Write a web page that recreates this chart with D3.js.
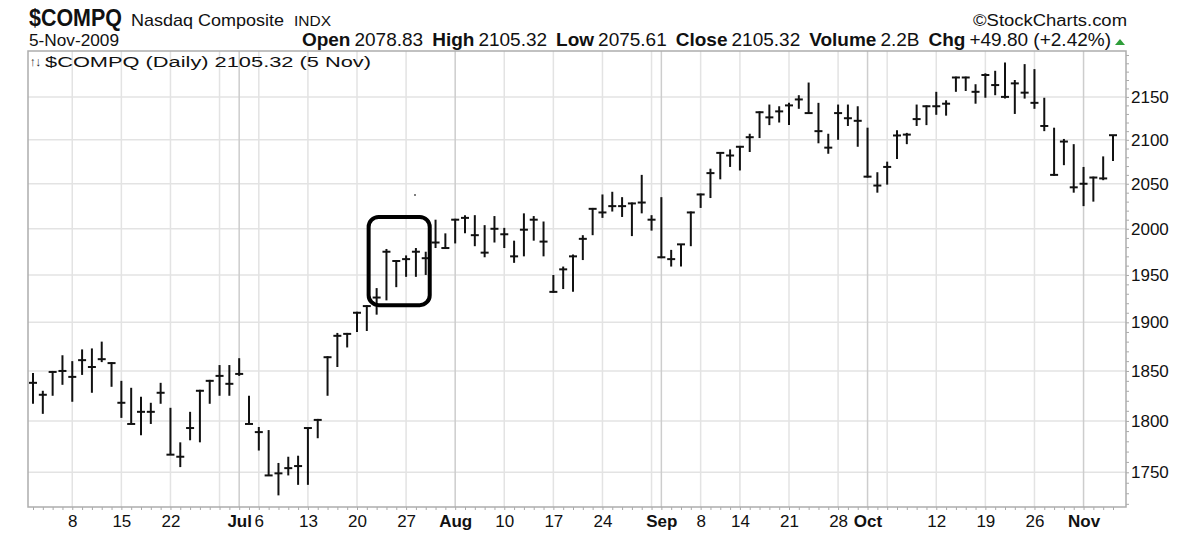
<!DOCTYPE html>
<html>
<head>
<meta charset="utf-8">
<script src="https://cdn.jsdelivr.net/npm/d3@7"></script>
<style>
  body { margin: 0; background: #fff; }
  text { font-family: "Liberation Sans", Arial, sans-serif; fill: #111; }
</style>
</head>
<body>
<div id="chart"></div>
<script>
// trading days shown on the chart
const dates = [
  "Jun 2","Jun 3","Jun 4","Jun 5","Jun 8","Jun 9","Jun 10","Jun 11","Jun 12","Jun 15",
  "Jun 16","Jun 17","Jun 18","Jun 19","Jun 22","Jun 23","Jun 24","Jun 25","Jun 26","Jun 29",
  "Jun 30","Jul 1","Jul 2","Jul 6","Jul 7","Jul 8","Jul 9","Jul 10","Jul 13","Jul 14",
  "Jul 15","Jul 16","Jul 17","Jul 20","Jul 21","Jul 22","Jul 23","Jul 24","Jul 27","Jul 28",
  "Jul 29","Jul 30","Jul 31","Aug 3","Aug 4","Aug 5","Aug 6","Aug 7","Aug 10","Aug 11",
  "Aug 12","Aug 13","Aug 14","Aug 17","Aug 18","Aug 19","Aug 20","Aug 21","Aug 24","Aug 25",
  "Aug 26","Aug 27","Aug 28","Aug 31","Sep 1","Sep 2","Sep 3","Sep 4","Sep 8","Sep 9",
  "Sep 10","Sep 11","Sep 14","Sep 15","Sep 16","Sep 17","Sep 18","Sep 21","Sep 22","Sep 23",
  "Sep 24","Sep 25","Sep 28","Sep 29","Sep 30","Oct 1","Oct 2","Oct 5","Oct 6","Oct 7",
  "Oct 8","Oct 9","Oct 12","Oct 13","Oct 14","Oct 15","Oct 16","Oct 19","Oct 20","Oct 21",
  "Oct 22","Oct 23","Oct 26","Oct 27","Oct 28","Oct 29","Oct 30","Nov 2","Nov 3","Nov 4",
  "Nov 5"
];

const highs = [
  1848,1830,1850,1866,1860,1872,1873,1880,1859,1840,
  1833,1824,1818,1838,1813,1779,1809,1831,1841,1856,
  1856,1863,1825,1794,1791,1759,1765,1766,1793,1802,
  1865,1889,1889,1911,1918,1936,1978,1966,1971,1979,
  1975,2010,1995,2011,2015,2015,2004,2014,2001,1987,
  2017,2014,2008,1950,1959,1972,1993,2023,2038,2041,
  2035,2029,2060,2015,2035,1977,1983,2019,2039,2067,
  2086,2089,2093,2107,2133,2141,2139,2143,2152,2167,
  2143,2107,2141,2141,2139,2114,2063,2075,2111,2108,
  2141,2140,2156,2146,2174,2174,2165,2178,2181,2191,
  2170,2189,2183,2149,2114,2101,2095,2069,2058,2081,
  2105.32
];

const lows = [
  1817,1807,1825,1836,1819,1846,1828,1859,1834,1803,
  1797,1786,1797,1817,1767,1755,1781,1779,1817,1825,
  1825,1845,1797,1771,1747,1728,1747,1738,1738,1783,
  1825,1854,1874,1890,1891,1908,1923,1937,1948,1948,
  1950,1979,1979,1984,1995,1981,1969,1985,1979,1963,
  1970,1987,1970,1931,1935,1932,1966,1993,2012,2019,
  2013,1992,2017,1998,1968,1959,1959,1981,2023,2034,
  2055,2069,2065,2086,2102,2117,2120,2117,2136,2131,
  2096,2084,2100,2116,2092,2057,2040,2049,2078,2095,
  2116,2117,2129,2128,2156,2157,2142,2149,2152,2148,
  2130,2148,2136,2110,2059,2071,2040,2025,2030,2054,
  2075.61
];

const closes = [
  1838,1826,1849,1850,1844,1861,1854,1862,1858,1818,
  1797,1809,1809,1828,1767,1765,1793,1830,1840,1845,
  1837,1847,1797,1789,1747,1749,1754,1756,1793,1801,
  1864,1886,1888,1910,1917,1926,1975,1965,1967,1975,
  1968,1985,1979,2010,2012,1993,1974,2000,1994,1970,
  1999,2010,1986,1932,1956,1970,1989,2022,2018,2025,
  2025,2028,2029,2010,1969,1967,1983,2018,2038,2062,
  2085,2082,2092,2103,2132,2126,2133,2140,2147,2131,
  2110,2091,2131,2125,2122,2058,2048,2069,2105,2106,
  2124,2139,2139,2142,2173,2173,2156,2176,2164,2150,
  2166,2155,2143,2116,2060,2098,2046,2050,2057,2056,
  2105.32
];

// vertical grid lines and their labels
const gridDates = ["Jun 8","Jun 15","Jun 22","Jun 29","Jul 1","Jul 6","Jul 13","Jul 20","Jul 27",
  "Aug 3","Aug 10","Aug 17","Aug 24","Aug 31","Sep 1","Sep 8","Sep 14","Sep 21","Sep 28",
  "Oct 1","Oct 5","Oct 12","Oct 19","Oct 26","Nov 2"];
const gridLabels = ["8","15","22","","Jul","6","13","20","27",
  "Aug","10","17","24","","Sep","8","14","21","28",
  "Oct","","12","19","26","Nov"];
const monthStarts = ["Jul 1","Aug 3","Sep 1","Oct 1","Nov 2"];

const yTicks = [1750,1800,1850,1900,1950,2000,2050,2100,2150];
const yMinorTicks = d3.range(1720, 2210, 10);

const width = 1200, height = 535;
const plot = { left: 28, right: 1126, top: 51, bottom: 507 };

const svg = d3.select("#chart")
  .append("svg")
    .attr("width", width)
    .attr("height", height)
    .attr("viewBox", `0 0 ${width} ${height}`);

svg.append("rect").attr("width", width).attr("height", height).attr("fill", "#fff");

/* scales */
const xScale = d3.scalePoint()
  .domain(dates)
  .range([33, 1113]);

const yScale = d3.scaleLog()
  .domain([1750, 2150])
  .range([472.3, 96.9]);

/* grid */
const grid = svg.append("g");

grid.selectAll(".hgrid")
  .data(yTicks)
  .join("line")
    .attr("x1", plot.left).attr("x2", plot.right)
    .attr("y1", d => yScale(d)).attr("y2", d => yScale(d))
    .attr("stroke", "#e3e3e3")
    .attr("stroke-width", 1.5);

grid.selectAll(".vgrid")
  .data(gridDates)
  .join("line")
    .attr("x1", d => xScale(d)).attr("x2", d => xScale(d))
    .attr("y1", plot.top).attr("y2", plot.bottom)
    .attr("stroke", d => monthStarts.includes(d) ? "#cdcdcd" : "#e3e3e3")
    .attr("stroke-width", 1.5);

/* axes */
const rightMinor = d3.axisRight(yScale)
  .tickValues(yMinorTicks.filter(v => yScale(v) > plot.top && yScale(v) < plot.bottom))
  .tickSize(3)
  .tickFormat("");

svg.append("g")
    .attr("transform", `translate(${plot.right}, 0)`)
    .call(rightMinor)
    .call(g => g.select(".domain").remove())
    .call(g => g.selectAll("line").attr("stroke", "#aaa"));

const rightAxis = d3.axisRight(yScale)
  .tickValues(yTicks)
  .tickSize(0)
  .tickPadding(5)
  .tickFormat(d3.format("d"));

svg.append("g")
    .attr("transform", `translate(${plot.right}, 0)`)
    .call(rightAxis)
    .call(g => g.select(".domain").remove())
    .call(g => g.selectAll("text")
      .attr("font-family", "Liberation Sans, Arial, sans-serif")
      .attr("font-size", 17)
      .attr("fill", "#222"));

const bottomMinor = d3.axisBottom(xScale)
  .tickValues(dates)
  .tickSize(3)
  .tickFormat("");

svg.append("g")
    .attr("transform", `translate(0, ${plot.bottom})`)
    .call(bottomMinor)
    .call(g => g.select(".domain").remove())
    .call(g => g.selectAll("line").attr("stroke", "#aaa"));

const bottomAxis = d3.axisBottom(xScale)
  .tickValues(gridDates)
  .tickSize(0)
  .tickPadding(8)
  .tickFormat((d, i) => gridLabels[i]);

svg.append("g")
    .attr("transform", `translate(0, ${plot.bottom})`)
    .call(bottomAxis)
    .call(g => g.select(".domain").remove())
    .call(g => g.selectAll("text")
      .attr("font-family", "Liberation Sans, Arial, sans-serif")
      .attr("font-size", 17)
      .attr("fill", "#222")
      .attr("font-weight", d => monthStarts.includes(d) ? "bold" : "normal"));

// plot border
svg.append("rect")
    .attr("x", plot.left).attr("y", plot.top)
    .attr("width", plot.right - plot.left)
    .attr("height", plot.bottom - plot.top)
    .attr("fill", "none")
    .attr("stroke", "#adadad")
    .attr("stroke-width", 1.5);

/* HLC bars */
const bars = svg.append("g").attr("stroke", "#111").attr("stroke-width", 2);

bars.selectAll(".hl")
  .data(dates)
  .join("line")
    .attr("x1", d => xScale(d)).attr("x2", d => xScale(d))
    .attr("y1", (d, i) => yScale(highs[i]))
    .attr("y2", (d, i) => yScale(lows[i]));

bars.selectAll(".cl")
  .data(dates)
  .join("line")
    .attr("x1", d => xScale(d) - 4).attr("x2", d => xScale(d) + 4)
    .attr("y1", (d, i) => yScale(closes[i]))
    .attr("y2", (d, i) => yScale(closes[i]));

// hand-drawn highlight box around the late-July bars
const boxFrom = xScale("Jul 22") - 8, boxTo = xScale("Jul 29") + 4;
svg.append("rect")
    .attr("x", boxFrom)
    .attr("y", yScale(2013))
    .attr("width", boxTo - boxFrom)
    .attr("height", yScale(1918) - yScale(2013))
    .attr("rx", 10)
    .attr("fill", "none")
    .attr("stroke", "#000")
    .attr("stroke-width", 4);

/* header */
const header = svg.append("g");

header.append("text")
    .attr("x", 29).attr("y", 26)
    .attr("font-family", "Liberation Sans Narrow, Liberation Sans, Arial, sans-serif")
    .attr("font-weight", "bold")
    .attr("font-size", 23)
    .attr("textLength", 93).attr("lengthAdjust", "spacingAndGlyphs")
    .text("$COMPQ");

header.append("text")
    .attr("x", 131).attr("y", 26)
    .attr("font-size", 17)
    .attr("textLength", 153).attr("lengthAdjust", "spacingAndGlyphs")
    .text("Nasdaq Composite");

header.append("text")
    .attr("x", 294).attr("y", 26)
    .attr("font-size", 15)
    .attr("textLength", 37).attr("lengthAdjust", "spacingAndGlyphs")
    .text("INDX");

header.append("text")
    .attr("x", 1127).attr("y", 26)
    .attr("text-anchor", "end")
    .attr("font-size", 16)
    .attr("fill", "#333")
    .attr("textLength", 154).attr("lengthAdjust", "spacingAndGlyphs")
    .text("\u00A9StockCharts.com");

header.append("text")
    .attr("x", 29).attr("y", 46)
    .attr("font-size", 17)
    .attr("textLength", 90).attr("lengthAdjust", "spacingAndGlyphs")
    .text("5-Nov-2009");

const quote = [
  ["Open", "2078.83"], ["High", "2105.32"], ["Low", "2075.61"],
  ["Close", "2105.32"], ["Volume", "2.2B"], ["Chg", "+49.80 (+2.42%)"]
];

const qline = header.append("text")
    .attr("x", 1111).attr("y", 46)
    .attr("text-anchor", "end")
    .attr("font-size", 19);

quote.forEach(([k, v], i) => {
  qline.append("tspan").attr("font-weight", "bold").attr("dx", i ? 9 : 0).text(k);
  qline.append("tspan").attr("dx", 4).text(v);
});

header.append("path")
    .attr("d", "M1115,45 L1125,45 L1120,39 Z")
    .attr("fill", "#2e9e3a");

// title inside the plot
header.append("text")
    .attr("x", 30).attr("y", 66)
    .attr("font-family", "DejaVu Sans, sans-serif")
    .attr("font-weight", "bold")
    .attr("font-size", 13)
    .attr("textLength", 11).attr("lengthAdjust", "spacingAndGlyphs")
    .text("\u2191\u2193");

header.append("text")
    .attr("x", 45).attr("y", 67)
    .attr("font-family", "DejaVu Sans, sans-serif")
    .attr("font-size", 14)
    .attr("textLength", 326).attr("lengthAdjust", "spacingAndGlyphs")
    .text("$COMPQ (Daily) 2105.32 (5 Nov)");

// small stray dot above the box
svg.append("circle")
    .attr("cx", 415).attr("cy", 195).attr("r", 1)
    .attr("fill", "#555");
</script>
</body>
</html>
